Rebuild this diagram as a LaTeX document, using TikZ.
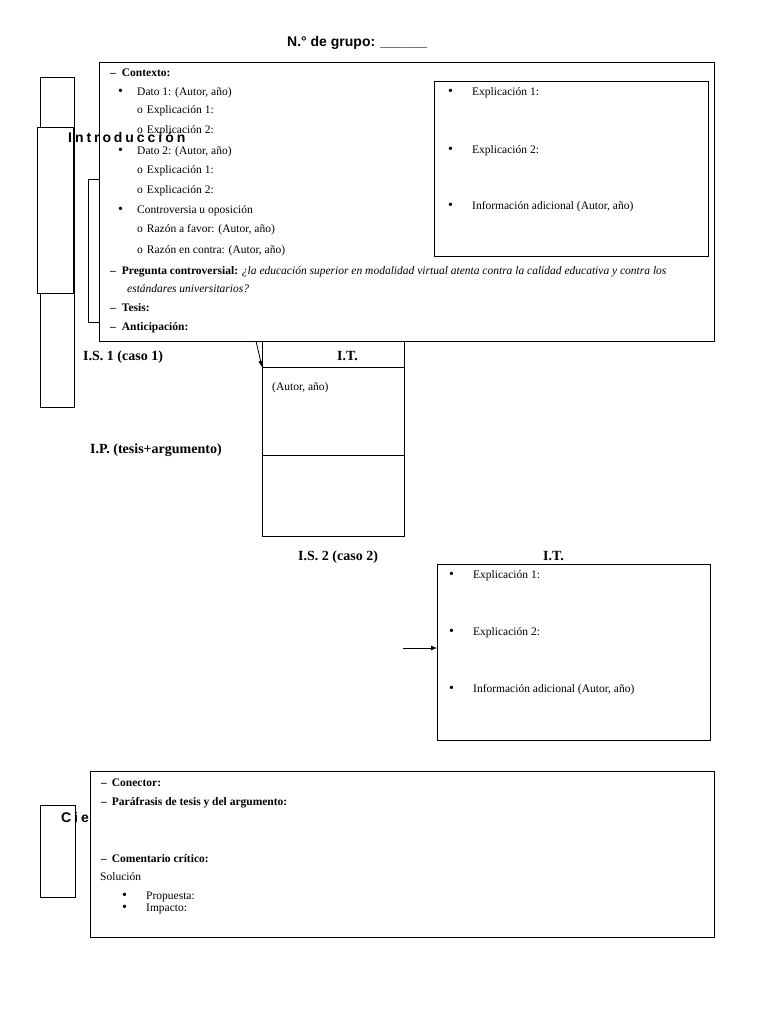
\documentclass[tikz,border=0pt]{standalone}
\usepackage{fontspec}
\setmainfont{Liberation Serif}
\newfontfamily\arialfont{Liberation Sans}
\newfontfamily\spacedfont[LetterSpace=21]{Liberation Sans}
\usetikzlibrary{arrows.meta}
\newcommand{\bul}{{\fontsize{14}{13}\selectfont •}}
\begin{document}
\begin{tikzpicture}[x=1pt,y=-1pt,
  box/.style={draw=black,line width=0.9pt,inner sep=0pt,anchor=north west},
  wbox/.style={box,fill=white},
  txt/.style={anchor=base west,inner sep=0pt,font=\fontsize{11.5}{13}\selectfont},
  btxt/.style={txt,font=\fontsize{11.5}{13}\selectfont\bfseries},
  lbl/.style={anchor=base west,inner sep=0pt,font=\fontsize{14}{16}\selectfont\bfseries},
  sp/.style={anchor=base west,inner sep=0pt,font=\spacedfont\bfseries\fontsize{14}{16}\selectfont},
  arr/.style={-{Latex[length=6pt,width=5pt]},line width=0.8pt}]
\useasboundingbox (0,0) rectangle (768,1024);

% title
\node[anchor=base west,inner sep=0pt,font=\arialfont\bfseries\fontsize{14}{16}\selectfont] (title) at (287,47) {N.° de grupo: \_\_\_\_\_\_};

% left side rectangles (top)
\node[box,minimum width=34pt,minimum height=330pt] (ra) at (40,77) {};
\node[wbox,minimum width=36pt,minimum height=166pt] (rb) at (37,127) {};
\node[wbox,minimum width=30pt,minimum height=143pt] (rc) at (88,179) {};

% I.T. box 1
\node[box,minimum width=142pt,minimum height=236pt] (it1) at (262,300) {};
\draw[line width=0.9pt] (262,367) -- (404,367);
\draw[line width=0.9pt] (262,455) -- (404,455);

% main top box
\node[wbox,minimum width=615pt,minimum height=279pt] (main) at (99,62) {};
\node[box,minimum width=274pt,minimum height=175pt] (inner) at (434,81) {};

\node[btxt] (cx) at (110,77) {–\hspace{6pt}Contexto:};
\node[txt] (d1) at (118,96) {\makebox[19pt][l]{\bul}Dato 1: (Autor, año)};
\node[txt] (d1e1) at (137,114) {o\hspace{4pt}Explicación 1:};
\node[txt] (d1e2) at (137,134) {o\hspace{4pt}Explicación 2:};
\node[txt] (d2) at (118,155) {\makebox[19pt][l]{\bul}Dato 2: (Autor, año)};
\node[txt] (d2e1) at (137,174) {o\hspace{4pt}Explicación 1:};
\node[txt] (d2e2) at (137,194) {o\hspace{4pt}Explicación 2:};
\node[txt] (co) at (118,214) {\makebox[19pt][l]{\bul}Controversia u oposición};
\node[txt] (rf) at (137,233) {o\hspace{4pt}Razón a favor: (Autor, año)};
\node[txt] (rcn) at (137,253) {o\hspace{4pt}Razón en contra: (Autor, año)};
\node[txt] (pq) at (110,274) {\textbf{–\hspace{6pt}Pregunta controversial:} \textit{¿la educación superior en modalidad virtual atenta contra la calidad educativa y contra los}};
\node[txt] (pq2) at (127,292) {\textit{estándares universitarios?}};
\node[btxt] (te) at (110,311) {–\hspace{6pt}Tesis:};
\node[btxt] (an) at (110,330) {–\hspace{6pt}Anticipación:};

\node[txt] (ie1) at (448,96) {\makebox[24pt][l]{\bul}Explicación 1:};
\node[txt] (ie2) at (448,154) {\makebox[24pt][l]{\bul}Explicación 2:};
\node[txt] (ie3) at (448,210) {\makebox[24pt][l]{\bul}Información adicional (Autor, año)};

\node[sp] (intro) at (68,143) {Introducción};

% middle labels
\node[lbl] (is1) at (83,360) {I.S. 1 (caso 1)};
\node[lbl] (it1l) at (337,360) {I.T.};
\node[txt] (au) at (272,390) {(Autor, año)};
\node[lbl] (ip) at (90,453) {I.P. (tesis+argumento)};

% arrow 1
\coordinate (a1s) at (256,341);
\coordinate (a1e) at (262,367);
\draw[arr] (a1s) -- (a1e);

% I.S. 2 section
\node[lbl] (is2) at (298,560) {I.S. 2 (caso 2)};
\node[lbl] (it2l) at (543,560) {I.T.};
\node[box,minimum width=273pt,minimum height=176pt] (it2) at (437,564) {};
\node[txt] (je1) at (449,578) {\makebox[24pt][l]{\bul}Explicación 1:};
\node[txt] (je2) at (449,635) {\makebox[24pt][l]{\bul}Explicación 2:};
\node[txt] (je3) at (449,692) {\makebox[24pt][l]{\bul}Información adicional (Autor, año)};
\coordinate (a2s) at (403,648);
\draw[arr] (a2s) -- (it2.west |- a2s);

% bottom
\node[box,minimum width=35pt,minimum height=92pt] (rd) at (40,805) {};
\node[sp] (cierre) at (61,822) {Cierre};
\node[wbox,minimum width=624pt,minimum height=166pt] (bot) at (90,771) {};
\node[btxt] (cn) at (101,786) {–\hspace{5pt}Conector:};
\node[btxt] (pa) at (101,805) {–\hspace{5pt}Paráfrasis de tesis y del argumento:};
\node[btxt] (cc) at (101,862) {–\hspace{5pt}Comentario crítico:};
\node[txt] (so) at (100,880) {Solución};
\node[txt] (pr) at (122,899) {\makebox[24pt][l]{\bul}Propuesta:};
\node[txt] (im) at (122,911) {\makebox[24pt][l]{\bul}Impacto:};
\end{tikzpicture}
\end{document}
